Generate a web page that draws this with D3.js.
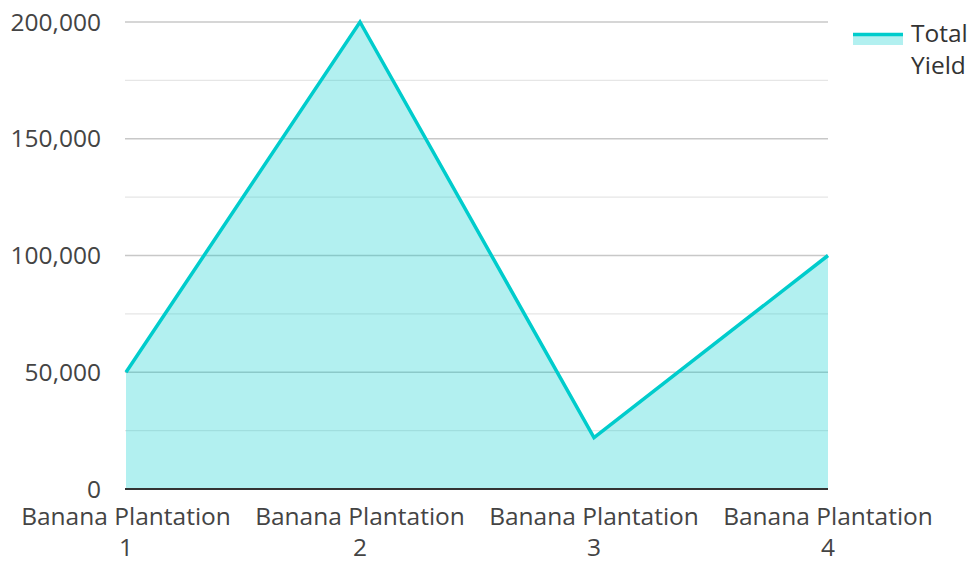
<!DOCTYPE html>
<html><head><meta charset="utf-8">
<script src="https://cdn.jsdelivr.net/npm/d3@7"></script>
<style>body{margin:0;background:#fff;}svg{display:block;font-family:"Open Sans",sans-serif;}</style>
</head><body><svg id="c" width="969" height="561"></svg>
<script>
const categories = ["Banana Plantation 1","Banana Plantation 2","Banana Plantation 3","Banana Plantation 4"];
const totalYield = [50000, 200000, 22000, 100000];
const yTicks = [0, 50000, 100000, 150000, 200000];
const minorTicks = [25000, 75000, 125000, 175000];
const seriesName = ["Total", "Yield"];

const svg = d3.select("#c");
const x = d3.scalePoint().domain(categories).range([126, 828]);
const y = d3.scaleLinear().domain([0, 200000]).range([489, 22]);
const fmt = d3.format(",");
const FS = 24.5;

const g = svg.append("g");
g.selectAll("line.minor").data(minorTicks).enter().append("line")
  .attr("x1",125).attr("x2",828).attr("y1",d=>y(d)).attr("y2",d=>y(d))
  .attr("stroke","#e6e6e6").attr("stroke-width",1.3);
g.selectAll("line.major").data(yTicks.filter(d=>d>0)).enter().append("line")
  .attr("x1",125).attr("x2",828).attr("y1",d=>y(d)).attr("y2",d=>y(d))
  .attr("stroke","#c8c8c8").attr("stroke-width",1.3);

const data = categories.map((c,i)=>({c, v: totalYield[i]}));
g.append("path").datum(data)
  .attr("d", d3.area().x(d=>x(d.c)).y0(y(0)).y1(d=>y(d.v)))
  .attr("fill","#00cccc").attr("fill-opacity",0.3);
g.append("path").datum(data)
  .attr("d", d3.line().x(d=>x(d.c)).y(d=>y(d.v)))
  .attr("fill","none").attr("stroke","#00cccc").attr("stroke-width",3.5).attr("stroke-linejoin","miter");

g.append("line").attr("x1",125).attr("x2",828).attr("y1",y(0)).attr("y2",y(0))
  .attr("stroke","#333").attr("stroke-width",2);

g.selectAll("text.yl").data(yTicks).enter().append("text")
  .attr("x",101).attr("y",d=>y(d)+8.5).attr("text-anchor","end")
  .attr("font-size",FS).attr("fill","#444").text(d=>fmt(d));

categories.forEach(c=>{
  const parts = [c.replace(/ \d+$/,""), c.match(/\d+$/)[0]];
  const t = g.append("text").attr("x",x(c)).attr("text-anchor","middle").attr("font-size",FS).attr("fill","#444");
  t.append("tspan").attr("x",x(c)).attr("y",525).text(parts[0]);
  t.append("tspan").attr("x",x(c)).attr("y",556).text(parts[1]);
});

// legend
const lg = svg.append("g");
lg.append("rect").attr("x",853).attr("y",33).attr("width",50).attr("height",12).attr("fill","#00cccc").attr("fill-opacity",0.3);
lg.append("line").attr("x1",853).attr("x2",903).attr("y1",34.5).attr("y2",34.5).attr("stroke","#00cccc").attr("stroke-width",3.5);
lg.selectAll("text").data(seriesName).enter().append("text")
  .attr("x",911).attr("y",(d,i)=>42+i*32).attr("font-size",FS).attr("fill","#333").text(d=>d);
</script></body></html>
